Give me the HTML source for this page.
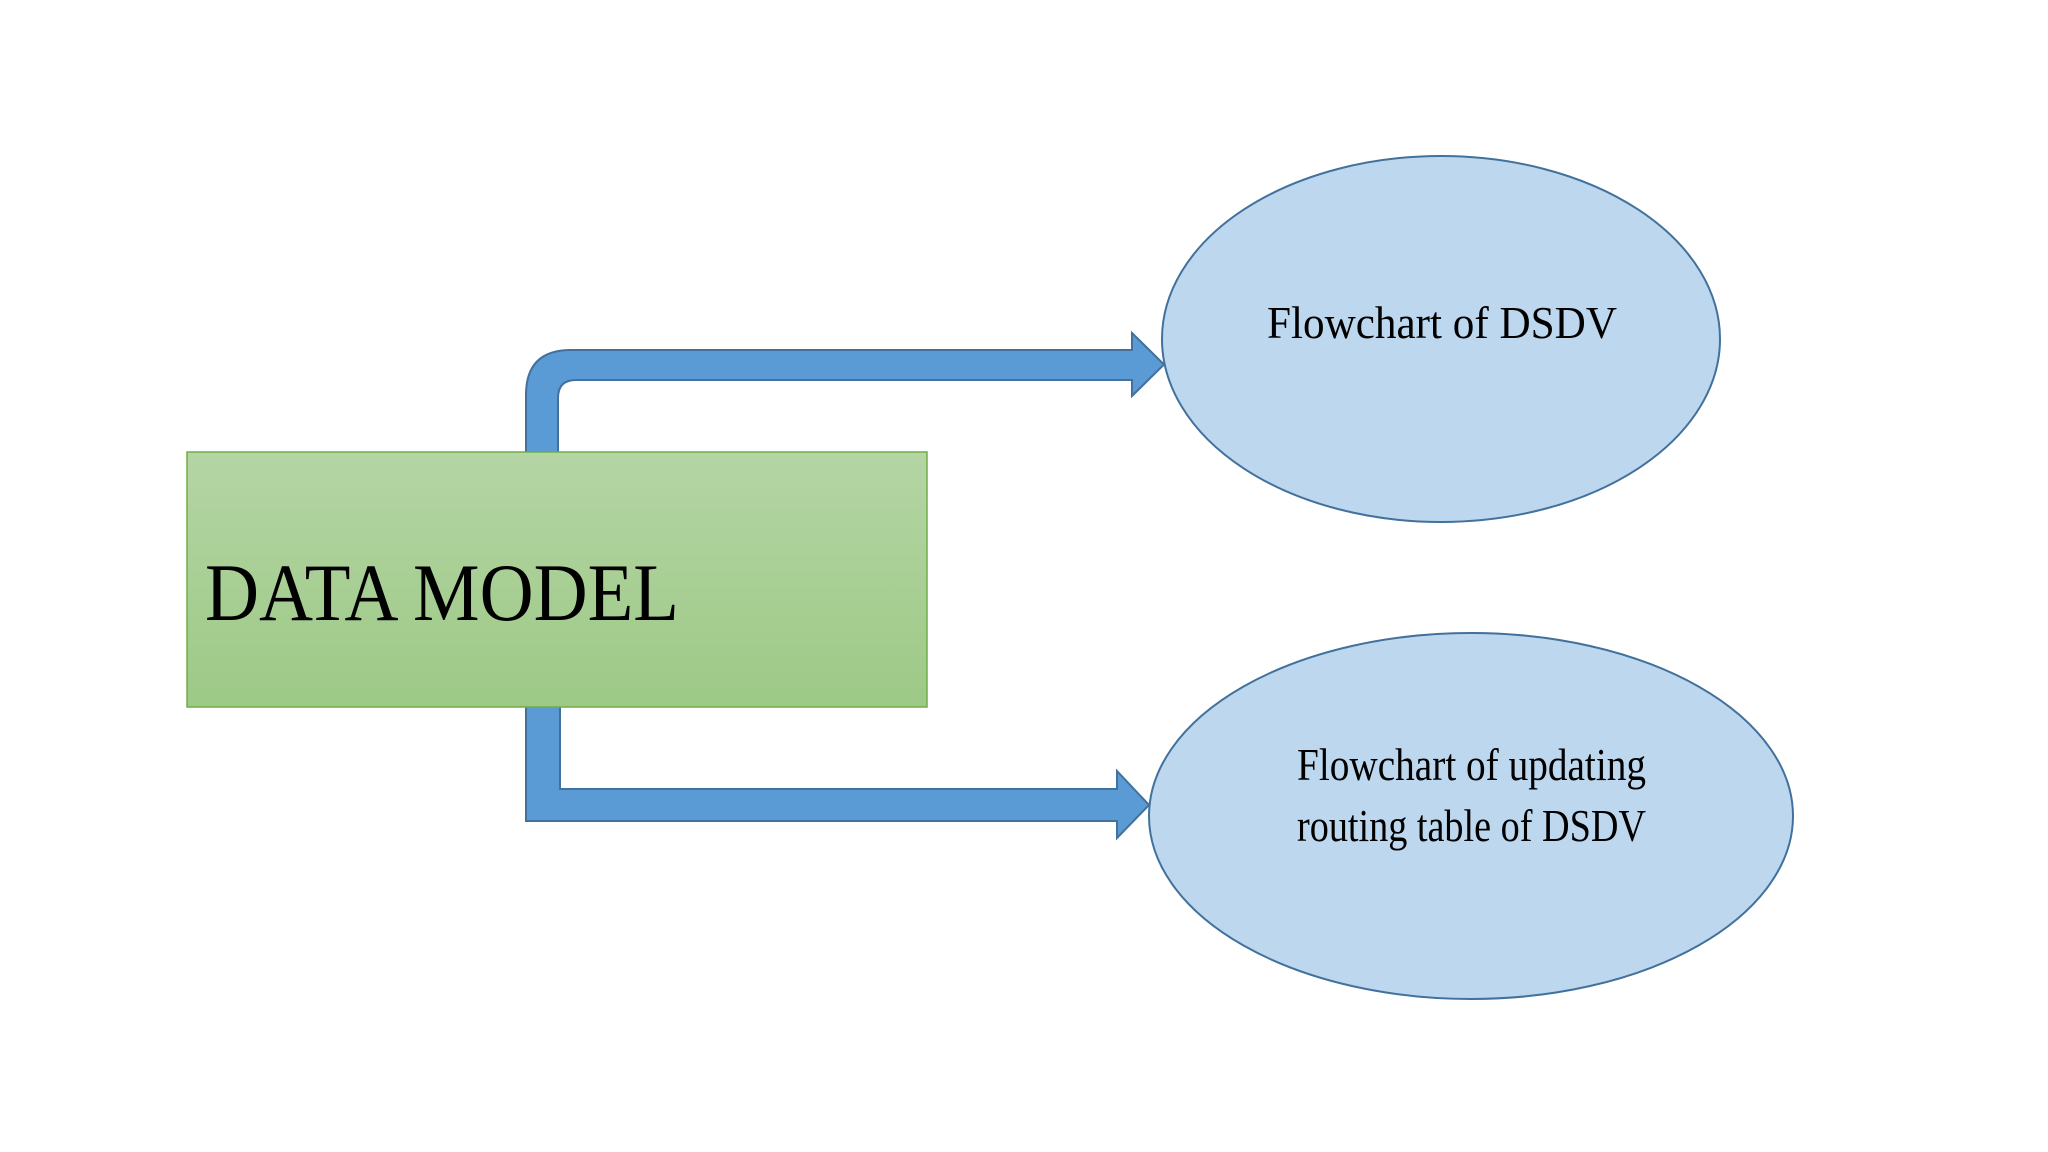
<!DOCTYPE html>
<html><head><meta charset="utf-8"><style>html,body{margin:0;padding:0;background:#fff}svg{display:block}</style></head>
<body>
<svg width="2048" height="1152" viewBox="0 0 2048 1152" xmlns="http://www.w3.org/2000/svg">
<defs>
<linearGradient id="g" x1="0" y1="0" x2="0" y2="1">
<stop offset="0" stop-color="#b4d5a4"/><stop offset="1" stop-color="#9dc986"/>
</linearGradient>
</defs>
<ellipse cx="1441" cy="339" rx="279" ry="183" fill="#bdd7ee" stroke="#41719c" stroke-width="2"/>
<ellipse cx="1471" cy="816" rx="322" ry="183" fill="#bdd7ee" stroke="#41719c" stroke-width="2"/>
<path d="M526 460 L526 395 Q526 350 571 350 L1132 350 L1132 333 L1164 364.5 L1132 396 L1132 380 L576 380 Q558 380 558 398 L558 460 Z" fill="#5b9bd5" stroke="#41719c" stroke-width="2"/>
<path d="M526 700 L526 821 L1117 821 L1117 838 L1149 805 L1117 771 L1117 789 L560 789 L560 700 Z" fill="#5b9bd5" stroke="#41719c" stroke-width="2"/>
<rect x="187" y="452" width="740" height="255" fill="url(#g)" stroke="#70ad47" stroke-width="1.5"/>
<text x="205" y="620" font-family="Liberation Serif, serif" font-size="82" textLength="474" lengthAdjust="spacingAndGlyphs" fill="#000">DATA MODEL</text>
<text x="1267" y="338" font-family="Liberation Serif, serif" font-size="46" textLength="350" lengthAdjust="spacingAndGlyphs" fill="#000">Flowchart of DSDV</text>
<text x="1297" y="780" font-family="Liberation Serif, serif" font-size="46" textLength="349" lengthAdjust="spacingAndGlyphs" fill="#000">Flowchart of updating</text>
<text x="1297" y="841" font-family="Liberation Serif, serif" font-size="46" textLength="349" lengthAdjust="spacingAndGlyphs" fill="#000">routing table of DSDV</text>
</svg>
</body></html>
